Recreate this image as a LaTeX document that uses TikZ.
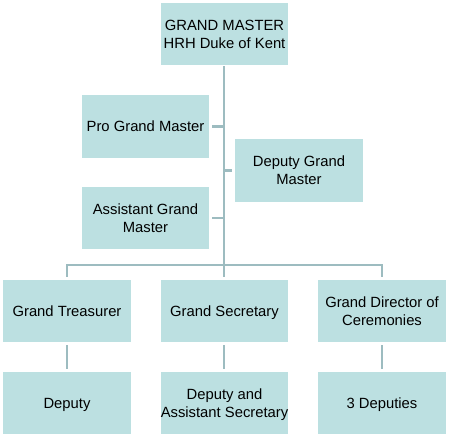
\documentclass[tikz,border=0pt]{standalone}
\usepackage{fontspec}
\setmainfont{Liberation Sans}
\definecolor{boxfill}{HTML}{BCE0E1}
\definecolor{linec}{HTML}{9DBCC0}
\begin{document}
\begin{tikzpicture}[x=1pt,y=-1pt,
  box/.style={fill=boxfill, draw=none, minimum width=127pt, minimum height=62pt, align=center, inner sep=0pt, text depth=0pt, font=\fontsize{14.8}{17.8}\selectfont},
  conn/.style={draw=linec, line width=2.6pt}]
\useasboundingbox (0,0) rectangle (449,437);
\node[box] (gm) at (224.5,34) {GRAND MASTER\\HRH Duke of Kent};
\node[box, minimum height=63pt] (pgm) at (145.5,126.5) {Pro Grand Master};
\node[box, minimum width=128pt, minimum height=63pt] (dgm) at (299,170.5) {Deputy Grand\\Master};
\node[box] (agm) at (145.5,218) {Assistant Grand\\Master};
\node[box, minimum width=128pt] (gt) at (67,311) {Grand Treasurer};
\node[box] (gs) at (224.5,311) {Grand Secretary};
\node[box, minimum width=128pt] (gd) at (382,311) {Grand Director of\\Ceremonies};
\node[box, minimum width=128pt] (d1) at (67,403) {Deputy};
\node[box] (d2) at (224.5,403) {Deputy and\\Assistant Secretary};
\node[box, minimum width=128pt] (d3) at (382,403) {3 Deputies};
\coordinate (bar) at (224,265);
\coordinate (barl) at (67,265);
\coordinate (barr) at (382,265);
\draw[conn, shorten <=1pt] (gm.south -| bar) -- (bar);
\draw[conn, shorten <=3pt] (pgm.east) -- (pgm.east -| bar);
\draw[conn, shorten <=3pt] (dgm.west) -- (dgm.west -| bar);
\draw[conn, shorten <=3pt] (agm.east) -- (agm.east -| bar);
\draw[conn] (barl |- gt.north) ++(0,-3) -- (barl) -- (barr) -- ++(0,12);
\draw[conn, shorten >=3pt] (bar) -- (gs.north -| bar);
\draw[conn, shorten <=3pt, shorten >=3pt] (gt.south) -- (d1.north);
\draw[conn, shorten <=3pt, shorten >=3pt] (gs.south -| bar) -- (d2.north -| bar);
\draw[conn, shorten <=3pt, shorten >=3pt] (gd.south) -- (d3.north);
\end{tikzpicture}
\end{document}
